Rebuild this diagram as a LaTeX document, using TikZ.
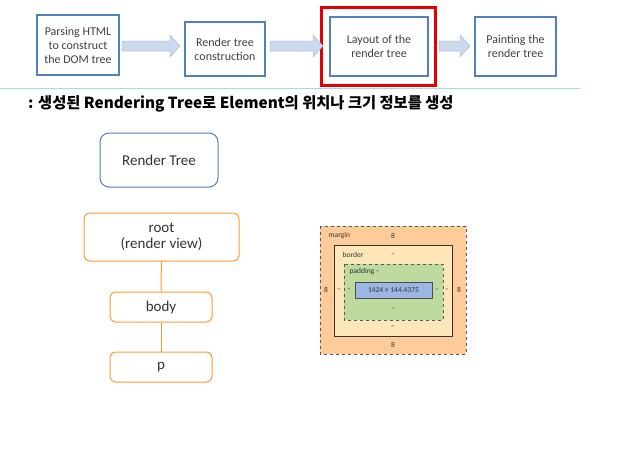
\documentclass[tikz,border=0pt]{standalone}
\usepackage{fontspec}
\setmainfont{Carlito}
\newfontfamily\kr{Noto Sans CJK KR}
\definecolor{stb}{HTML}{4F81BD}
\begin{document}
\begin{tikzpicture}[x=1pt,y=-1pt,
 stepbox/.style={draw=stb,line width=2pt,fill=white,align=center,font=\fontsize{12}{14}\selectfont,text=black!75,inner sep=0pt},
 arr/.style={fill=stb!30,draw=stb!50,line width=0.5pt},
 tnode/.style={draw=orange!80,rounded corners=6pt,line width=1pt,align=center,font=\fontsize{15}{16}\selectfont,text=black!80,inner sep=0pt},
 bm/.style={font=\fontsize{7.5}{8}\selectfont,inner sep=0.5pt,text=black!80}]
\useasboundingbox (0,0) rectangle (620,467);
\fill[white] (0,0) rectangle (620,467);
\node[stepbox,minimum width=82pt,minimum height=60pt] (s1) at (78,45) {Parsing HTML\\to construct\\the DOM tree};
\node[stepbox,minimum width=80pt,minimum height=54pt] (s2) at (225,49) {Render tree\\construction};
\node[draw=red!90!black,line width=3pt,minimum width=114pt,minimum height=78pt] (red) at (378.5,46) {};
\node[stepbox,minimum width=98pt,minimum height=59pt] (s3) at (379,46.5) {Layout of the\\render tree};
\node[stepbox,minimum width=81pt,minimum height=59pt] (s4) at (515.5,46.5) {Painting the\\render tree};
\foreach \a/\b in {122/180,270/323,439/470}{
 \filldraw[arr] (\a,41) -- (\b-10,41) -- (\b-10,35) -- (\b,46) -- (\b-10,57) -- (\b-10,51) -- (\a,51) -- cycle;}
\draw[cyan!40,line width=1pt] (0,88) -- (580,88);
\node[anchor=west,font=\kr\fontsize{15.3}{17}\selectfont\bfseries,inner sep=0pt] (t) at (28,104) {: 생성된 Rendering Tree로 Element의 위치나 크기 정보를 생성};
\node[draw=stb,rounded corners=9pt,line width=1pt,minimum width=118pt,minimum height=54pt,font=\fontsize{15}{16}\selectfont,text=black!80] (rt) at (159,160) {Render Tree};
\node[tnode,minimum width=155pt,minimum height=48pt] (root) at (161.5,237) {root\\(render view)};
\node[tnode,minimum width=102pt,minimum height=30pt] (body) at (161,307) {body};
\node[tnode,minimum width=102pt,minimum height=30pt] (p) at (161,367) {p};
\draw[orange!80,line width=1pt] (root) -- (body);
\draw[orange!80,line width=1pt] (body) -- (p);
% box model
\draw[gray!70!black,dashed,fill=orange!40!white,line width=1pt] (320,226) rectangle (466,354);
\draw[black!80,fill=yellow!30!orange!25,line width=1pt] (334,245) rectangle (452,336);
\draw[gray!70!black,dashed,fill=olive!40!green!35,line width=0.6pt] (344,264) rectangle (443,320);
\draw[gray!60!black,fill=cyan!50!blue!40,line width=0.6pt] (355,282) rectangle (432,298);
\node[bm,anchor=west] (m) at (328,236) {margin};
\node[bm] (m1) at (393,236) {8};
\node[bm,anchor=west] (b) at (342,255) {border};
\node[bm] (b1) at (393,255) {--};
\node[bm,anchor=west] (pd) at (349,272) {padding --};
\node[bm] (c) at (393.5,290) {1424 × 144.4375};
\node[bm] (l1) at (326,290) {8};
\node[bm] (l2) at (339,290) {--};
\node[bm] (l3) at (349,290) {--};
\node[bm] (r1) at (437,290) {--};
\node[bm] (r2) at (447,290) {--};
\node[bm] (r3) at (459,290) {8};
\node[bm] (d1) at (393,309) {--};
\node[bm] (d2) at (393,327) {--};
\node[bm] (d3) at (393,345) {8};
\end{tikzpicture}
\end{document}
